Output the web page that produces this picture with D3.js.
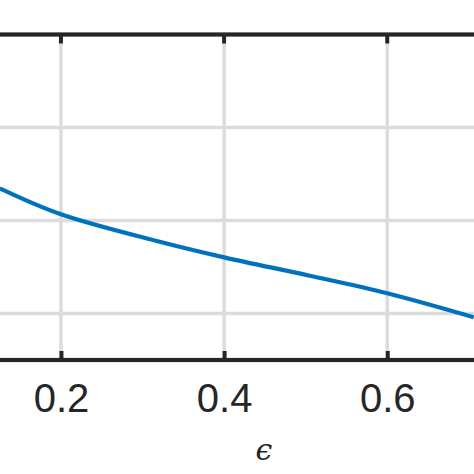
<!DOCTYPE html>
<html>
<head>
<meta charset="utf-8">
<script src="https://cdn.jsdelivr.net/npm/d3@7"></script>
<style>
  html, body { margin: 0; padding: 0; background: #fff; }
  svg { display: block; }
</style>
</head>
<body>
<div id="app"></div>
<script>
const width = 474,
  height = 474;

// axes box in pixels (right part is outside the picture)
const plot = { left: -102.2, right: 550.4, top: 34.5, bottom: 360 };

// x ticks and y ticks
const xTicks = [0.2, 0.4, 0.6];
const yTicks = [1, 2, 3, 4];

// curve
const epsValues = [0.125, 0.2, 0.321, 0.4, 0.505, 0.6, 0.706];
const curveValues = [2.346, 2.067, 1.772, 1.604, 1.406, 1.217, 0.959];

const data = epsValues.map((e, i) => ({ eps: e, val: curveValues[i] }));

const svg = d3.select("div#app")
  .append("svg")
  .attr("width", width)
  .attr("height", height);

const x = d3.scaleLinear()
  .domain([0, 0.8])
  .range([plot.left, plot.right]);

const y = d3.scaleLinear()
  .domain([0.5, 4])
  .range([plot.bottom, plot.top]);

const gridColor = "#dcdcdc";
const axisColor = "#262626";

// grid lines
svg.append("g")
  .selectAll("line.vgrid")
  .data(xTicks)
  .join("line")
  .attr("class", "vgrid")
  .attr("x1", d => x(d))
  .attr("x2", d => x(d))
  .attr("y1", plot.top)
  .attr("y2", plot.bottom)
  .style("stroke", gridColor)
  .style("stroke-width", 3.5);

svg.append("g")
  .selectAll("line.hgrid")
  .data(yTicks)
  .join("line")
  .attr("class", "hgrid")
  .attr("x1", plot.left)
  .attr("x2", plot.right)
  .attr("y1", d => y(d))
  .attr("y2", d => y(d))
  .style("stroke", gridColor)
  .style("stroke-width", 3.5);

// the curve
const line = d3.line()
  .x(d => x(d.eps))
  .y(d => y(d.val))
  .curve(d3.curveCatmullRom.alpha(0.5));

svg.append("path")
  .datum(data)
  .attr("d", line)
  .style("fill", "none")
  .style("stroke", "#0072BD")
  .style("stroke-width", 4.2)
  .style("stroke-linejoin", "round");

// bottom axis (ticks pointing inward)
const xAxis = d3.axisBottom(x)
  .tickValues(xTicks)
  .tickSize(-9)
  .tickPadding(24)
  .tickFormat(d3.format(".1f"));

const gx = svg.append("g")
  .attr("transform", `translate(0,${plot.bottom})`)
  .call(xAxis);
gx.select(".domain").remove();
gx.selectAll(".tick line")
  .style("stroke", axisColor)
  .style("stroke-width", 4);
gx.selectAll(".tick text")
  .attr("dy", "0.71em")
  .style("font-family", "'Liberation Sans', Arial, sans-serif")
  .style("font-size", "40px")
  .style("fill", axisColor);

// top ticks
svg.append("g")
  .selectAll("line.ttick")
  .data(xTicks)
  .join("line")
  .attr("class", "ttick")
  .attr("x1", d => x(d))
  .attr("x2", d => x(d))
  .attr("y1", plot.top)
  .attr("y2", plot.top + 9)
  .style("stroke", axisColor)
  .style("stroke-width", 4);

// box
svg.append("rect")
  .attr("x", plot.left)
  .attr("y", plot.top)
  .attr("width", plot.right - plot.left)
  .attr("height", plot.bottom - plot.top)
  .style("fill", "none")
  .style("stroke", axisColor)
  .style("stroke-width", 4.2);

// x label
svg.append("text")
  .attr("x", 264)
  .attr("y", 460)
  .style("text-anchor", "middle")
  .style("font-family", "'DejaVu Serif', serif")
  .style("font-style", "italic")
  .style("font-size", "30px")
  .style("fill", axisColor)
  .text("ϵ");
</script>
</body>
</html>
